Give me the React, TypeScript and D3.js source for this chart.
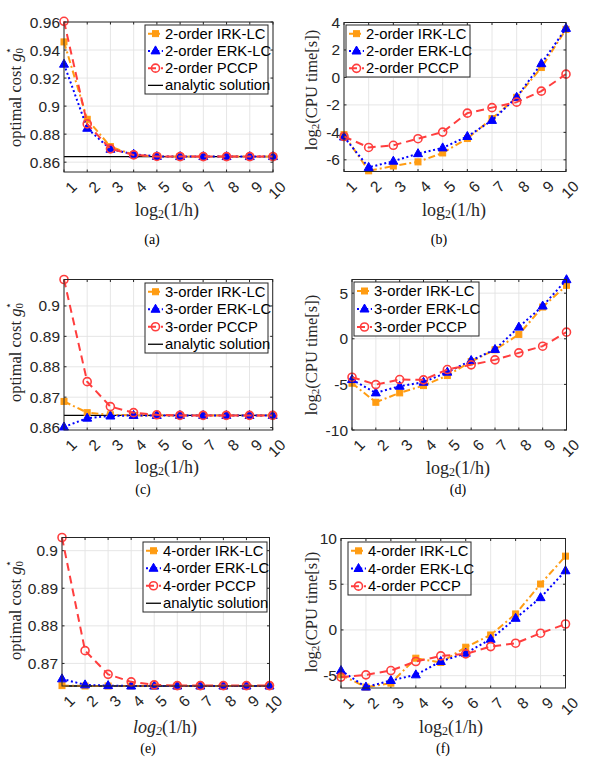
import React from "react";
import * as d3 from "d3";

const X = [1, 2, 3, 4, 5, 6, 7, 8, 9, 10];
const xTickLabels = ["1", "2", "3", "4", "5", "6", "7", "8", "9", "10"];
const ANALYTIC = 0.864;

const aIRK = [0.9458, 0.8906, 0.8711, 0.8652, 0.8641, 0.864, 0.864, 0.864, 0.864, 0.864];
const aERK = [0.9299, 0.8842, 0.8692, 0.8657, 0.8641, 0.864, 0.864, 0.864, 0.864, 0.864];
const aPCCP = [0.9605, 0.8873, 0.8695, 0.8652, 0.8641, 0.864, 0.864, 0.864, 0.864, 0.864];

const bIRK = [-4.17, -6.8, -6.45, -6.15, -5.5, -4.45, -3.0, -1.45, 0.72, 3.5];
const bERK = [-4.34, -6.55, -6.1, -5.55, -5.13, -4.3, -3.13, -1.45, 1.0, 3.57];
const bPCCP = [-4.3, -5.1, -4.94, -4.46, -3.98, -2.6, -2.2, -1.8, -1.0, 0.24];

const cIRK = [0.8686, 0.8649, 0.8642, 0.864, 0.864, 0.864, 0.864, 0.864, 0.864, 0.864];
const cERK = [0.8602, 0.8631, 0.8638, 0.864, 0.864, 0.864, 0.864, 0.864, 0.864, 0.864];
const cPCCP = [0.9087, 0.8751, 0.8669, 0.8649, 0.8642, 0.864, 0.864, 0.864, 0.864, 0.864];

const dIRK = [-4.87, -6.96, -5.93, -5.13, -4.03, -2.49, -1.21, 0.48, 3.48, 5.86];
const dERK = [-4.47, -5.93, -5.2, -4.76, -3.66, -2.38, -1.17, 1.28, 3.59, 6.48];
const dPCCP = [-4.21, -5.02, -4.47, -4.5, -3.37, -2.86, -2.31, -1.54, -0.81, 0.73];

const eIRK = [0.8641, 0.864, 0.864, 0.864, 0.864, 0.864, 0.864, 0.864, 0.864, 0.864];
const eERK = [0.8659, 0.8643, 0.8641, 0.864, 0.864, 0.864, 0.864, 0.864, 0.864, 0.864];
const ePCCP = [0.9035, 0.8734, 0.8671, 0.8651, 0.8643, 0.8641, 0.8641, 0.8641, 0.8641, 0.8641];

const fIRK = [-4.91, -6.25, -5.82, -3.09, -3.56, -1.89, -0.55, 1.75, 5.02, 8.07];
const fERK = [-4.44, -6.25, -5.53, -4.91, -3.45, -2.55, -1.02, 1.27, 3.53, 6.47];
const fPCCP = [-5.16, -4.91, -4.44, -3.45, -2.84, -2.62, -1.82, -1.45, -0.36, 0.65];

const costTicksA = [0.86, 0.88, 0.9, 0.92, 0.94, 0.96];
const costTicksC = [0.86, 0.87, 0.88, 0.89, 0.9];
const costTicksE = [0.87, 0.88, 0.89, 0.9];
const cpuTicksB = [-6, -4, -2, 0, 2, 4];
const cpuTicksD = [-10, -5, 0, 5];
const cpuTicksF = [-5, 0, 5, 10];

const ORANGE = "#FF9C12";
const BLUE = "#0000FF";
const RED = "#FF3E3E";
const AX = "#262626";
const SANS = "'Liberation Sans', Arial, sans-serif";
const SERIF = "'Liberation Serif', 'Times New Roman', serif";

type Panel = {
  cap: string;
  order: number;
  kind: "cost" | "cpu";
  box: [number, number, number, number];
  yDomain: [number, number];
  yTicks: number[];
  data: number[][];
  legend: [number, number, number, number];
  cap_xy: [number, number];
  xl_xy: [number, number];
  yl_xy: [number, number];
  italicLog?: boolean;
};

const panels: Panel[] = [
  { cap: "(a)", order: 2, kind: "cost", box: [64, 273, 22, 172], yDomain: [0.853, 0.96], yTicks: costTicksA, data: [aIRK, aERK, aPCCP], legend: [145, 25, 123, 69], cap_xy: [152, 239], xl_xy: [167, 210], yl_xy: [15, 97] },
  { cap: "(b)", order: 2, kind: "cpu", box: [344, 566, 22.5, 171.5], yDomain: [-6.85, 4], yTicks: cpuTicksB, data: [bIRK, bERK, bPCCP], legend: [346, 25, 124, 52], cap_xy: [439, 239], xl_xy: [454, 210], yl_xy: [311, 90] },
  { cap: "(c)", order: 3, kind: "cost", box: [64, 272.7, 279.5, 430], yDomain: [0.8592, 0.9087], yTicks: costTicksC, data: [cIRK, cERK, cPCCP], legend: [145, 283, 123, 70], cap_xy: [143, 489], xl_xy: [167, 467], yl_xy: [15, 352] },
  { cap: "(d)", order: 3, kind: "cpu", box: [352, 566.5, 279.5, 430], yDomain: [-10, 6.5], yTicks: cpuTicksD, data: [dIRK, dERK, dPCCP], legend: [354, 282, 125, 54], cap_xy: [458, 489], xl_xy: [458, 468], yl_xy: [311, 355] },
  { cap: "(e)", order: 4, kind: "cost", box: [62, 269.5, 537.5, 686], yDomain: [0.864, 0.9035], yTicks: costTicksE, data: [eIRK, eERK, ePCCP], legend: [143, 542, 124, 70], cap_xy: [148, 748], xl_xy: [165, 727], yl_xy: [15, 610], italicLog: true },
  { cap: "(f)", order: 4, kind: "cpu", box: [341, 565.5, 538.5, 688], yDomain: [-6.35, 10], yTicks: cpuTicksF, data: [fIRK, fERK, fPCCP], legend: [348, 542, 123, 53], cap_xy: [443, 748], xl_xy: [451, 727], yl_xy: [311, 612] },
];

const styles = [
  { color: ORANGE, dash: "7,3,2,3", marker: "square", name: "IRK-LC" },
  { color: BLUE, dash: "2,2.6", marker: "triangle", name: "ERK-LC" },
  { color: RED, dash: "8,5", marker: "circle", name: "PCCP" },
];

function Marker({ kind, x, y, color }: { kind: string; x: number; y: number; color: string }) {
  if (kind === "square")
    return <rect x={x - 3} y={y - 3} width={6} height={6} fill={color} stroke={color} strokeWidth={1} />;
  if (kind === "triangle")
    return <path d={`M${x},${y - 5}L${x + 4.5},${y + 3}L${x - 4.5},${y + 3}Z`} fill={color} stroke={color} strokeWidth={1} />;
  return <circle cx={x} cy={y} r={4} fill="none" stroke={color} strokeWidth={1.6} />;
}

function fmt(v: number) {
  return String(+v.toFixed(4));
}

function PanelView({ p }: { p: Panel }) {
  const [l, r, t, b] = p.box;
  const x = d3.scaleLinear().domain([1, 10]).range([l, r]);
  const y = d3.scaleLinear().domain(p.yDomain).range([b, t]);
  const line = d3
    .line<number>()
    .x((_, i) => x(X[i]))
    .y((d) => y(d));
  const [lx, ly, lw, lh] = p.legend;
  const entries = p.kind === "cost" ? 4 : 3;
  const step = lh / entries;
  return (
    <g>
      {X.map((v) => (
        <line key={"gx" + v} x1={x(v)} x2={x(v)} y1={t} y2={b} stroke="#e3e3e3" strokeWidth={0.9} />
      ))}
      {p.yTicks.map((v) => (
        <line key={"gy" + v} x1={l} x2={r} y1={y(v)} y2={y(v)} stroke="#e3e3e3" strokeWidth={0.9} />
      ))}
      {X.map((v) => (
        <g key={"tx" + v}>
          <line x1={x(v)} x2={x(v)} y1={b} y2={b - 2.5} stroke={AX} />
          <line x1={x(v)} x2={x(v)} y1={t} y2={t + 2.5} stroke={AX} />
        </g>
      ))}
      {p.yTicks.map((v) => (
        <g key={"ty" + v}>
          <line x1={l} x2={l + 2.5} y1={y(v)} y2={y(v)} stroke={AX} />
          <line x1={r} x2={r - 2.5} y1={y(v)} y2={y(v)} stroke={AX} />
        </g>
      ))}
      {p.kind === "cost" && (
        <line x1={l} x2={r} y1={y(ANALYTIC)} y2={y(ANALYTIC)} stroke="#000" strokeWidth={1.3} />
      )}
      {p.data.map((s, si) => (
        <g key={"s" + si}>
          <path d={line(s) || ""} fill="none" stroke={styles[si].color} strokeWidth={2} strokeDasharray={styles[si].dash} />
          {s.map((v, i) => (
            <Marker key={i} kind={styles[si].marker} x={x(X[i])} y={y(v)} color={styles[si].color} />
          ))}
        </g>
      ))}
      <rect x={l} y={t} width={r - l} height={b - t} fill="none" stroke={AX} strokeWidth={1} />
      {X.map((v, i) => (
        <text
          key={"lx" + v}
          transform={`translate(${x(v) + 10},${b + 12}) rotate(-45)`}
          textAnchor="end"
          dominantBaseline="central"
          fontFamily={SANS}
          fontSize={15.5}
          fill={AX}
        >
          {xTickLabels[i]}
        </text>
      ))}
      {p.yTicks.map((v) => (
        <text key={"ly" + v} x={l - 4} y={y(v)} textAnchor="end" dominantBaseline="central" fontFamily={SANS} fontSize={15.5} fill={AX}>
          {fmt(v)}
        </text>
      ))}
      <rect x={lx} y={ly} width={lw} height={lh} fill="#fff" stroke={AX} strokeWidth={1} />
      {styles.map((s, si) => {
        const cy = ly + step * (si + 0.5);
        return (
          <g key={"lg" + si}>
            <line x1={lx + 3} x2={lx + 18} y1={cy} y2={cy} stroke={s.color} strokeWidth={2} strokeDasharray={s.dash} />
            <Marker kind={s.marker} x={lx + 10.5} y={cy} color={s.color} />
            <text x={lx + 20} y={cy} dominantBaseline="central" fontFamily={SANS} fontSize={14.8} fill="#000">
              {`${p.order}-order ${s.name}`}
            </text>
          </g>
        );
      })}
      {p.kind === "cost" && (
        <g>
          <line x1={lx + 3} x2={lx + 18} y1={ly + step * 3.5} y2={ly + step * 3.5} stroke="#000" strokeWidth={1.3} />
          <text x={lx + 20} y={ly + step * 3.5} dominantBaseline="central" fontFamily={SANS} fontSize={14.8} fill="#000">
            analytic solution
          </text>
        </g>
      )}
      <text x={p.xl_xy[0]} y={p.xl_xy[1]} textAnchor="middle" dominantBaseline="central" fontFamily={SERIF} fontSize={18} fill={AX}>
        <tspan fontStyle={p.italicLog ? "italic" : "normal"}>log</tspan>
        <tspan fontSize={12} dy={4} fontStyle={p.italicLog ? "italic" : "normal"}>2</tspan>
        <tspan dy={-4}>(1/h)</tspan>
      </text>
      <text
        transform={`translate(${p.yl_xy[0]},${p.yl_xy[1]}) rotate(-90)`}
        textAnchor="middle"
        dominantBaseline="central"
        fontFamily={SERIF}
        fontSize={16.5}
        fill={AX}
      >
        {p.kind === "cost" ? (
          <>
            <tspan>optimal cost </tspan>
            <tspan fontStyle="italic">g</tspan>
            <tspan fontSize={11} dy={4}>0</tspan>
            <tspan fontSize={11} dx={-6} dy={-11}>⋆</tspan>
            <tspan dy={7}> </tspan>
          </>
        ) : (
          <>
            <tspan>log</tspan>
            <tspan fontSize={11} dy={4}>2</tspan>
            <tspan dy={-4}>(CPU time[s])</tspan>
          </>
        )}
      </text>
      <text x={p.cap_xy[0]} y={p.cap_xy[1]} textAnchor="middle" dominantBaseline="central" fontFamily={SERIF} fontSize={14} fill="#000">
        {p.cap}
      </text>
    </g>
  );
}

export default function App() {
  return (
    <svg width={592} height={781} style={{ position: "absolute", left: 0, top: 0, background: "#fff" }}>
      <rect x={0} y={0} width={592} height={781} fill="#fff" />
      {panels.map((p) => (
        <PanelView key={p.cap} p={p} />
      ))}
    </svg>
  );
}
